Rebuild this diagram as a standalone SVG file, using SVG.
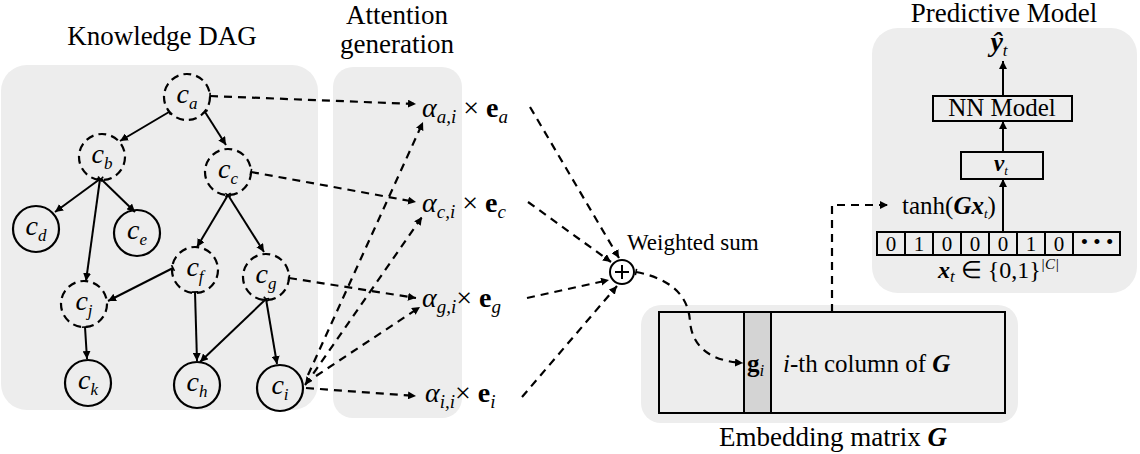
<svg xmlns="http://www.w3.org/2000/svg" width="1140" height="454" viewBox="0 0 1140 454" font-family="'Liberation Serif', 'Times New Roman', serif">
<style>
text{font-family:"Liberation Serif","Times New Roman",serif;fill:#000}
.title{font-size:27px;text-anchor:middle}
.panel{fill:#ededed;stroke:none}
.node{fill:#ededed;stroke:#000;stroke-width:2.2}
.dnode{fill:#ededed;stroke:#000;stroke-width:2.2;stroke-dasharray:8 5}
.nl{font-size:28px;font-style:italic;text-anchor:middle}
.sub{font-size:17px;font-style:italic}
.asub{font-size:19px;font-style:italic}
.edge{fill:none;stroke:#000;stroke-width:2;marker-end:url(#ah);marker-start:url(#tail)}
.dash{fill:none;stroke:#000;stroke-width:2.2;stroke-dasharray:8 6;marker-end:url(#ah)}
.sol{fill:none;stroke:#000;stroke-width:2;marker-end:url(#ah)}
.al{font-size:28px}
.box{fill:#ededed;stroke:#000;stroke-width:2}
.cell{font-size:21px;text-anchor:middle}
</style>
<defs>
<marker id="ah" viewBox="0 0 10 10" refX="10" refY="5" markerWidth="8" markerHeight="8" markerUnits="userSpaceOnUse" orient="auto-start-reverse">
<path d="M0,0 L10,5 L0,10 z" fill="#000"/>
</marker>
<marker id="tail" viewBox="0 0 10 10" refX="5" refY="5" markerWidth="8" markerHeight="8" markerUnits="userSpaceOnUse" orient="auto">
<path d="M5,1 L5,9" stroke="#000" stroke-width="2"/>
</marker>
</defs>

<g id="panels">
<rect class="panel" x="1" y="65" width="317" height="345" rx="26"/>
<rect class="panel" x="333" y="67" width="129" height="351" rx="20"/>
<rect class="panel" x="641" y="305" width="377" height="118" rx="20"/>
<rect class="panel" x="872" y="28" width="265" height="265" rx="26"/>
</g>

<g id="titles">
<text class="title" x="162" y="45">Knowledge DAG</text>
<text class="title" x="397" y="24" font-size="23">Attention</text>
<text class="title" x="397" y="53" font-size="23">generation</text>
<text class="title" x="1004" y="22" font-size="26">Predictive Model</text>
<text class="title" x="833" y="446">Embedding matrix <tspan font-weight="bold" font-style="italic">G</tspan></text>
</g>

<g id="node-a"><circle class="dnode" cx="187" cy="97" r="23"/><text class="nl" x="187" y="103">c<tspan class="sub" dy="6">a</tspan></text></g>
<g id="node-b"><circle class="dnode" cx="102" cy="157" r="23"/><text class="nl" x="102" y="163">c<tspan class="sub" dy="6">b</tspan></text></g>
<g id="node-c"><circle class="dnode" cx="228" cy="172" r="23"/><text class="nl" x="228" y="178">c<tspan class="sub" dy="6">c</tspan></text></g>
<g id="node-d"><circle class="node" cx="36" cy="229" r="23"/><text class="nl" x="36" y="235">c<tspan class="sub" dy="6">d</tspan></text></g>
<g id="node-e"><circle class="node" cx="137" cy="233" r="23"/><text class="nl" x="137" y="239">c<tspan class="sub" dy="6">e</tspan></text></g>
<g id="node-f"><circle class="dnode" cx="195" cy="270" r="23"/><text class="nl" x="195" y="276">c<tspan class="sub" dy="6">f</tspan></text></g>
<g id="node-g"><circle class="dnode" cx="266" cy="277" r="23"/><text class="nl" x="266" y="283">c<tspan class="sub" dy="6">g</tspan></text></g>
<g id="node-j"><circle class="dnode" cx="84" cy="304" r="23"/><text class="nl" x="84" y="310">c<tspan class="sub" dy="6">j</tspan></text></g>
<g id="node-k"><circle class="node" cx="88" cy="383" r="23"/><text class="nl" x="88" y="389">c<tspan class="sub" dy="6">k</tspan></text></g>
<g id="node-h"><circle class="node" cx="197" cy="385" r="23"/><text class="nl" x="197" y="391">c<tspan class="sub" dy="6">h</tspan></text></g>
<g id="node-i"><circle class="node" cx="280" cy="388" r="23"/><text class="nl" x="280" y="394">c<tspan class="sub" dy="6">i</tspan></text></g>

<g id="alpha-a"><text class="al" x="422" y="117"><tspan font-style="italic">α</tspan><tspan class="asub" dy="6">a,i</tspan><tspan dy="-6"> × </tspan><tspan font-weight="bold">e</tspan><tspan class="asub" dy="6">a</tspan></text></g>
<g id="alpha-c"><text class="al" x="422" y="212"><tspan font-style="italic">α</tspan><tspan class="asub" dy="6">c,i</tspan><tspan dy="-6"> × </tspan><tspan font-weight="bold">e</tspan><tspan class="asub" dy="6">c</tspan></text></g>
<g id="alpha-g"><text class="al" x="422" y="307"><tspan font-style="italic">α</tspan><tspan class="asub" dy="6">g,i</tspan><tspan dy="-6">× </tspan><tspan font-weight="bold">e</tspan><tspan class="asub" dy="6">g</tspan></text></g>
<g id="alpha-i"><text class="al" x="425" y="402"><tspan font-style="italic">α</tspan><tspan class="asub" dy="6">i,i</tspan><tspan dy="-6">× </tspan><tspan font-weight="bold">e</tspan><tspan class="asub" dy="6">i</tspan></text></g>

<g id="sum">
<circle cx="622" cy="272" r="12" fill="#fff" stroke="#000" stroke-width="2"/>
<path d="M622,265 L622,279 M615,272 L629,272" stroke="#000" stroke-width="2"/>
<text x="627" y="250" font-size="23">Weighted sum</text>
</g>

<g id="embedding">
<rect class="box" x="659" y="312" width="346" height="101"/>
<rect x="744" y="312" width="27" height="101" fill="#d4d4d4" stroke="#000" stroke-width="2"/>
<text x="747" y="372" font-size="25"><tspan font-weight="bold">g</tspan><tspan class="sub" dy="4">i</tspan></text>
<text x="783" y="372" font-size="25"><tspan font-style="italic">i</tspan>-th column of <tspan font-weight="bold" font-style="italic">G</tspan></text>
</g>

<g id="predictive">
<text x="999" y="51" font-size="28" text-anchor="middle"><tspan font-weight="bold" font-style="italic">ŷ</tspan><tspan class="sub" dy="5">t</tspan></text>
<rect class="box" x="933" y="96" width="139" height="25"/>
<text x="1002" y="116" font-size="25" text-anchor="middle">NN Model</text>
<rect class="box" x="961" y="152" width="82" height="27"/>
<text x="1001" y="171" font-size="23" text-anchor="middle"><tspan font-weight="bold" font-style="italic">v</tspan><tspan font-size="13" font-style="italic" dy="4">t</tspan></text>
<text x="902" y="214" font-size="25">tanh(<tspan font-weight="bold" font-style="italic">Gx</tspan><tspan font-size="13" font-style="italic" dy="4">t</tspan><tspan dy="-4">)</tspan></text>
</g>

<g id="vector">
<rect class="box" x="877" y="232" width="243" height="23"/>
<path d="M905,232 V255 M933,232 V255 M961,232 V255 M989,232 V255 M1017,232 V255 M1045,232 V255 M1073,232 V255" stroke="#000" stroke-width="2"/>
<text class="cell" x="891" y="251">0</text>
<text class="cell" x="919" y="251">1</text>
<text class="cell" x="947" y="251">0</text>
<text class="cell" x="975" y="251">0</text>
<text class="cell" x="1003" y="251">0</text>
<text class="cell" x="1031" y="251">1</text>
<text class="cell" x="1059" y="251">0</text>
<text class="cell" x="1097" y="249">• • •</text>
<text x="938" y="278" font-size="24"><tspan font-weight="bold" font-style="italic">x</tspan><tspan class="sub" dy="4">t</tspan><tspan dy="-4"> ∈ {0,1}</tspan><tspan font-size="15" font-style="italic" dy="-9">|C|</tspan></text>
</g>

<g id="connectors">
<path class="edge" d="M169,112 L120,141"/>
<path class="edge" d="M205,112 L226,145"/>
<path class="edge" d="M100,179 L55,212"/>
<path class="edge" d="M101,179 L135,212"/>
<path class="edge" d="M100,179 L86,281"/>
<path class="edge" d="M228,195 L197,247"/>
<path class="edge" d="M228,195 L264,252"/>
<path class="edge" d="M173,268 L108,301"/>
<path class="edge" d="M195,292 L197,361"/>
<path class="edge" d="M266,299 L200,362"/>
<path class="edge" d="M266,299 L277,364"/>
<path class="edge" d="M85,327 L87,359"/>

<path class="dash" style="marker-start:url(#tail)" d="M210,96 L416,104"/>
<path class="dash" style="marker-start:url(#tail)" d="M251,172 L416,202"/>
<path class="dash" style="marker-start:url(#tail)" d="M289,278 L416,298"/>
<path class="dash" d="M306,388 L416,396"/>
<path class="dash" d="M308,375 L423,122"/>
<path class="dash" style="marker-start:url(#ah)" d="M305,385 L313,374 L422,217"/>
<path class="dash" d="M316,376 L420,307"/>

<path class="dash" d="M530,107 L619,258"/>
<path class="dash" d="M528,202 L611,262"/>
<path class="dash" d="M527,298 L609,280"/>
<path class="dash" d="M522,397 L617,286"/>

<path class="dash" style="marker-start:url(#tail)" d="M636,272 Q688,282 690,322 Q694,360 743,363"/>
<path class="dash" d="M832,312 L832,205 L888,205"/>

<path class="sol" d="M1003,232 L1003,179"/>
<path class="sol" d="M1003,152 L1003,121"/>
<path class="sol" d="M1003,96 L1003,61"/>
</g>
</svg>
